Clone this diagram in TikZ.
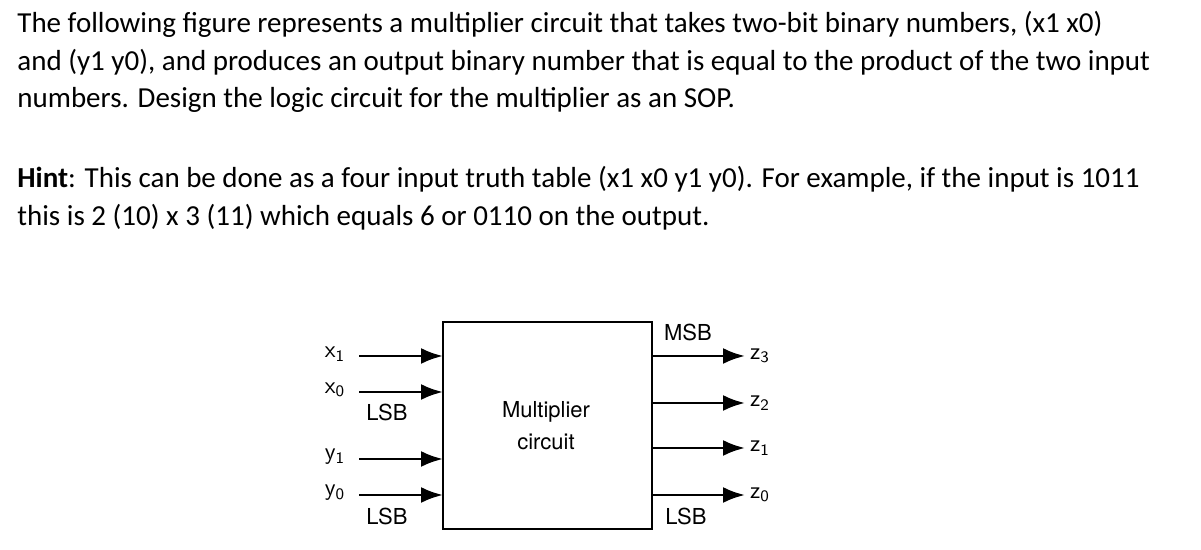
\documentclass[tikz,border=0pt]{standalone}
\usepackage{fontspec}
\setmainfont{Carlito}
\newfontfamily\diagfont{TeX Gyre Heros}
\usetikzlibrary{arrows.meta}
\tikzset{
  sig/.style={line width=1.4pt,-{Latex[length=11pt,width=8pt]}},
  lbl/.style={font=\diagfont\fontsize{11}{13}\selectfont,inner sep=0pt},
}
\begin{document}
\begin{tikzpicture}[x=0.5pt,y=-0.5pt]
   \useasboundingbox (0,0) rectangle (1201,550);
   % question text
   \node[anchor=north west,align=left,inner sep=0pt,font=\fontsize{14.5}{18.75}\selectfont] (intro) at (17,11)
   {The following figure represents a multiplier circuit that takes two-bit binary numbers, (x1 x0)\\
    and (y1 y0), and produces an output binary number that is equal to the product of the two input\\
    numbers. Design the logic circuit for the multiplier as an SOP.};
   \node[anchor=north west,align=left,inner sep=0pt,font=\fontsize{14.5}{18.75}\selectfont] (hint) at (17,166)
   {\textbf{Hint}: This can be done as a four input truth table (x1 x0 y1 y0). For example, if the input is 1011\\
    this is 2 (10) x 3 (11) which equals 6 or 0110 on the output.};

   % the block
   \draw[line width=1.2pt] (443,322) rectangle (652,529);
   \node[lbl,align=center,font=\diagfont\fontsize{11}{16}\selectfont] (mult) at (546,426) {Multiplier\\circuit};

   % inputs
   \foreach \nm/\yy/\tx in {xa/356/x_1, xb/392/x_0, ya/459/y_1, yb/495/y_0}{
     \coordinate (\nm s) at (359,\yy);
     \coordinate (\nm e) at (443,\yy);
     \draw[sig] (\nm s) -- (\nm e);
     \node[lbl] (\nm l) at (335,\yy-2) {\large$\mathsf{\tx}$};
   }
   \node[lbl] (lsbx) at (387,412) {LSB};
   \node[lbl] (lsby) at (387,516) {LSB};

   % outputs
   \foreach \nm/\yy/\tx in {zd/356/z_3, zc/403/z_2, zb/448/z_1, za/495/z_0}{
     \coordinate (\nm s) at (652,\yy);
     \coordinate (\nm e) at (745,\yy);
     \draw[sig] (\nm s) -- (\nm e);
     \node[lbl] (\nm l) at (760,\yy) {\large$\mathsf{\tx}$};
   }
   \node[lbl] (msb) at (688,332) {MSB};
   \node[lbl] (lsbz) at (686,516) {LSB};
\end{tikzpicture}
\end{document}
